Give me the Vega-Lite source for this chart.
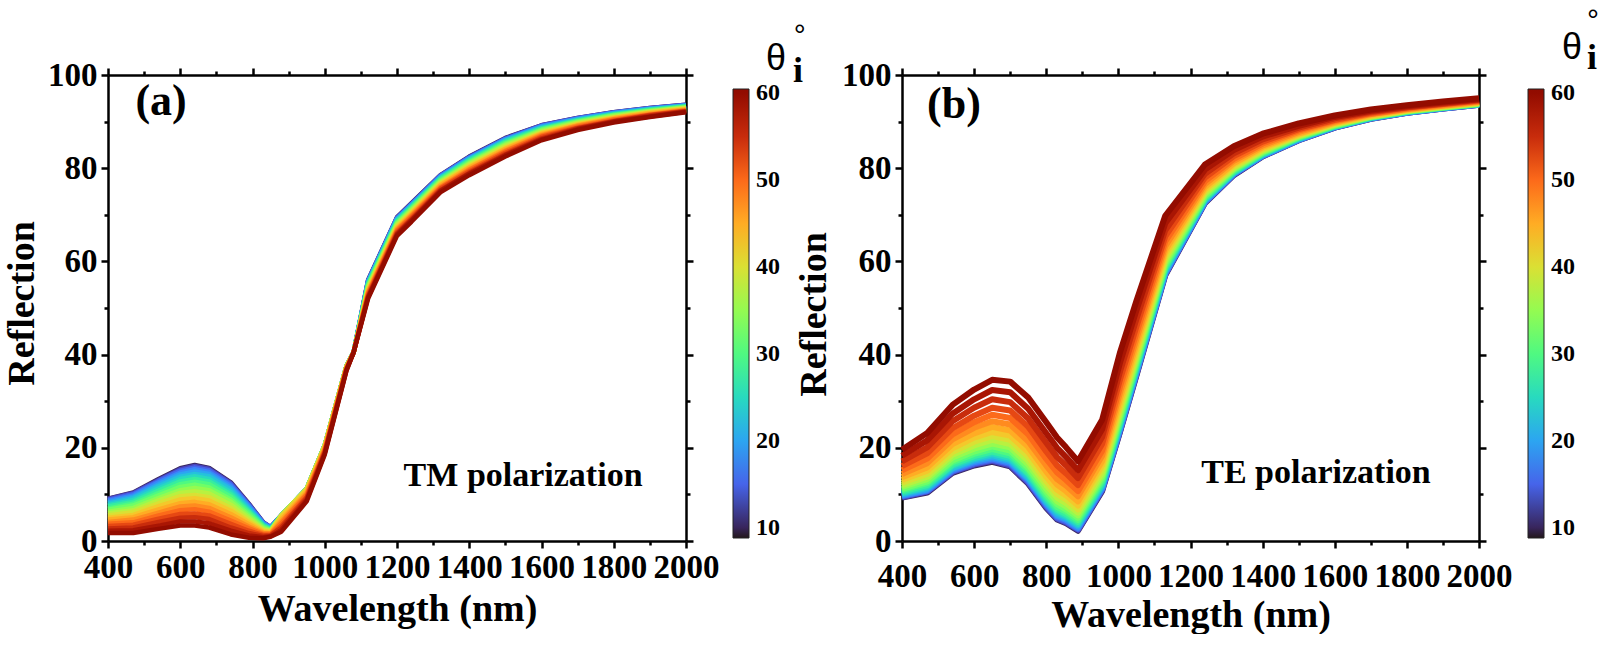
{
"$schema":"https://vega.github.io/schema/vega-lite/v6.json",
"background":"white",
"autosize":{"type":"pad"},
"padding":{"left":3,"top":5,"right":0,"bottom":0},
"bounds":"flush",
"spacing":216,
"config":{"view":{"stroke":null},"font":"Liberation Serif",
"axis":{"grid":false,"domainColor":"black","domainWidth":2.5,"tickColor":"black","tickWidth":2.5,"labelFont":"Liberation Serif","labelFontWeight":"bold","labelFontSize":33,"labelColor":"black","titleFont":"Liberation Serif","titleFontWeight":"bold","titleFontSize":38,"titleColor":"black","labelOverlap":false,"labelFlush":false}},
"resolve":{"scale":{"color":"independent"},"legend":{"color":"independent"}},
"datasets":{
"a":[
{"t":10,"w":400,"r":9.1},{"t":12.5,"w":400,"r":9.0},{"t":15,"w":400,"r":8.8},{"t":17.5,"w":400,"r":8.6},{"t":20,"w":400,"r":8.3},{"t":22.5,"w":400,"r":8.0},{"t":25,"w":400,"r":7.7},{"t":27.5,"w":400,"r":7.4},{"t":30,"w":400,"r":7.0},{"t":32.5,"w":400,"r":6.7},{"t":35,"w":400,"r":6.3},{"t":37.5,"w":400,"r":5.9},{"t":40,"w":400,"r":5.5},{"t":42.5,"w":400,"r":5.0},{"t":45,"w":400,"r":4.6},{"t":47.5,"w":400,"r":4.1},{"t":50,"w":400,"r":3.7},{"t":52.5,"w":400,"r":3.2},{"t":55,"w":400,"r":2.7},{"t":57.5,"w":400,"r":2.2},{"t":60,"w":400,"r":1.7},
{"t":10,"w":470,"r":10.4},{"t":12.5,"w":470,"r":10.3},{"t":15,"w":470,"r":10.1},{"t":17.5,"w":470,"r":9.8},{"t":20,"w":470,"r":9.5},{"t":22.5,"w":470,"r":9.2},{"t":25,"w":470,"r":8.8},{"t":27.5,"w":470,"r":8.4},{"t":30,"w":470,"r":8.0},{"t":32.5,"w":470,"r":7.6},{"t":35,"w":470,"r":7.1},{"t":37.5,"w":470,"r":6.6},{"t":40,"w":470,"r":6.2},{"t":42.5,"w":470,"r":5.6},{"t":45,"w":470,"r":5.1},{"t":47.5,"w":470,"r":4.6},{"t":50,"w":470,"r":4.0},{"t":52.5,"w":470,"r":3.5},{"t":55,"w":470,"r":2.9},{"t":57.5,"w":470,"r":2.3},{"t":60,"w":470,"r":1.7},
{"t":10,"w":540,"r":13.3},{"t":12.5,"w":540,"r":13.1},{"t":15,"w":540,"r":12.9},{"t":17.5,"w":540,"r":12.6},{"t":20,"w":540,"r":12.2},{"t":22.5,"w":540,"r":11.8},{"t":25,"w":540,"r":11.3},{"t":27.5,"w":540,"r":10.8},{"t":30,"w":540,"r":10.3},{"t":32.5,"w":540,"r":9.8},{"t":35,"w":540,"r":9.2},{"t":37.5,"w":540,"r":8.7},{"t":40,"w":540,"r":8.1},{"t":42.5,"w":540,"r":7.5},{"t":45,"w":540,"r":6.8},{"t":47.5,"w":540,"r":6.1},{"t":50,"w":540,"r":5.5},{"t":52.5,"w":540,"r":4.8},{"t":55,"w":540,"r":4.1},{"t":57.5,"w":540,"r":3.3},{"t":60,"w":540,"r":2.6},
{"t":10,"w":600,"r":15.6},{"t":12.5,"w":600,"r":15.4},{"t":15,"w":600,"r":15.1},{"t":17.5,"w":600,"r":14.7},{"t":20,"w":600,"r":14.3},{"t":22.5,"w":600,"r":13.8},{"t":25,"w":600,"r":13.3},{"t":27.5,"w":600,"r":12.8},{"t":30,"w":600,"r":12.2},{"t":32.5,"w":600,"r":11.6},{"t":35,"w":600,"r":10.9},{"t":37.5,"w":600,"r":10.3},{"t":40,"w":600,"r":9.6},{"t":42.5,"w":600,"r":8.9},{"t":45,"w":600,"r":8.1},{"t":47.5,"w":600,"r":7.4},{"t":50,"w":600,"r":6.6},{"t":52.5,"w":600,"r":5.8},{"t":55,"w":600,"r":5.0},{"t":57.5,"w":600,"r":4.2},{"t":60,"w":600,"r":3.3},
{"t":10,"w":640,"r":16.3},{"t":12.5,"w":640,"r":16.1},{"t":15,"w":640,"r":15.8},{"t":17.5,"w":640,"r":15.4},{"t":20,"w":640,"r":14.9},{"t":22.5,"w":640,"r":14.4},{"t":25,"w":640,"r":13.9},{"t":27.5,"w":640,"r":13.3},{"t":30,"w":640,"r":12.7},{"t":32.5,"w":640,"r":12.1},{"t":35,"w":640,"r":11.4},{"t":37.5,"w":640,"r":10.7},{"t":40,"w":640,"r":9.9},{"t":42.5,"w":640,"r":9.2},{"t":45,"w":640,"r":8.4},{"t":47.5,"w":640,"r":7.6},{"t":50,"w":640,"r":6.8},{"t":52.5,"w":640,"r":5.9},{"t":55,"w":640,"r":5.1},{"t":57.5,"w":640,"r":4.2},{"t":60,"w":640,"r":3.3},
{"t":10,"w":680,"r":15.7},{"t":12.5,"w":680,"r":15.5},{"t":15,"w":680,"r":15.2},{"t":17.5,"w":680,"r":14.8},{"t":20,"w":680,"r":14.4},{"t":22.5,"w":680,"r":13.9},{"t":25,"w":680,"r":13.3},{"t":27.5,"w":680,"r":12.8},{"t":30,"w":680,"r":12.2},{"t":32.5,"w":680,"r":11.5},{"t":35,"w":680,"r":10.9},{"t":37.5,"w":680,"r":10.2},{"t":40,"w":680,"r":9.4},{"t":42.5,"w":680,"r":8.7},{"t":45,"w":680,"r":7.9},{"t":47.5,"w":680,"r":7.1},{"t":50,"w":680,"r":6.3},{"t":52.5,"w":680,"r":5.5},{"t":55,"w":680,"r":4.7},{"t":57.5,"w":680,"r":3.8},{"t":60,"w":680,"r":2.9},
{"t":10,"w":740,"r":12.6},{"t":12.5,"w":740,"r":12.4},{"t":15,"w":740,"r":12.2},{"t":17.5,"w":740,"r":11.8},{"t":20,"w":740,"r":11.4},{"t":22.5,"w":740,"r":11.0},{"t":25,"w":740,"r":10.5},{"t":27.5,"w":740,"r":10.0},{"t":30,"w":740,"r":9.5},{"t":32.5,"w":740,"r":8.9},{"t":35,"w":740,"r":8.4},{"t":37.5,"w":740,"r":7.8},{"t":40,"w":740,"r":7.1},{"t":42.5,"w":740,"r":6.5},{"t":45,"w":740,"r":5.8},{"t":47.5,"w":740,"r":5.1},{"t":50,"w":740,"r":4.4},{"t":52.5,"w":740,"r":3.7},{"t":55,"w":740,"r":2.9},{"t":57.5,"w":740,"r":2.2},{"t":60,"w":740,"r":1.4},
{"t":10,"w":790,"r":8.0},{"t":12.5,"w":790,"r":7.9},{"t":15,"w":790,"r":7.7},{"t":17.5,"w":790,"r":7.5},{"t":20,"w":790,"r":7.2},{"t":22.5,"w":790,"r":6.9},{"t":25,"w":790,"r":6.6},{"t":27.5,"w":790,"r":6.3},{"t":30,"w":790,"r":6.0},{"t":32.5,"w":790,"r":5.6},{"t":35,"w":790,"r":5.2},{"t":37.5,"w":790,"r":4.8},{"t":40,"w":790,"r":4.4},{"t":42.5,"w":790,"r":4.0},{"t":45,"w":790,"r":3.6},{"t":47.5,"w":790,"r":3.1},{"t":50,"w":790,"r":2.7},{"t":52.5,"w":790,"r":2.2},{"t":55,"w":790,"r":1.7},{"t":57.5,"w":790,"r":1.2},{"t":60,"w":790,"r":0.7},
{"t":10,"w":830,"r":4.0},{"t":12.5,"w":830,"r":4.0},{"t":15,"w":830,"r":3.9},{"t":17.5,"w":830,"r":3.8},{"t":20,"w":830,"r":3.6},{"t":22.5,"w":830,"r":3.5},{"t":25,"w":830,"r":3.4},{"t":27.5,"w":830,"r":3.2},{"t":30,"w":830,"r":3.1},{"t":32.5,"w":830,"r":2.9},{"t":35,"w":830,"r":2.7},{"t":37.5,"w":830,"r":2.5},{"t":40,"w":830,"r":2.3},{"t":42.5,"w":830,"r":2.1},{"t":45,"w":830,"r":1.9},{"t":47.5,"w":830,"r":1.7},{"t":50,"w":830,"r":1.5},{"t":52.5,"w":830,"r":1.3},{"t":55,"w":830,"r":1.1},{"t":57.5,"w":830,"r":0.8},{"t":60,"w":830,"r":0.6},
{"t":10,"w":850,"r":3.0},{"t":12.5,"w":850,"r":3.0},{"t":15,"w":850,"r":2.9},{"t":17.5,"w":850,"r":2.9},{"t":20,"w":850,"r":2.8},{"t":22.5,"w":850,"r":2.7},{"t":25,"w":850,"r":2.6},{"t":27.5,"w":850,"r":2.5},{"t":30,"w":850,"r":2.4},{"t":32.5,"w":850,"r":2.3},{"t":35,"w":850,"r":2.2},{"t":37.5,"w":850,"r":2.1},{"t":40,"w":850,"r":2.0},{"t":42.5,"w":850,"r":1.9},{"t":45,"w":850,"r":1.7},{"t":47.5,"w":850,"r":1.6},{"t":50,"w":850,"r":1.5},{"t":52.5,"w":850,"r":1.3},{"t":55,"w":850,"r":1.2},{"t":57.5,"w":850,"r":1.0},{"t":60,"w":850,"r":0.9},
{"t":10,"w":880,"r":5.5},{"t":12.5,"w":880,"r":5.5},{"t":15,"w":880,"r":5.5},{"t":17.5,"w":880,"r":5.5},{"t":20,"w":880,"r":5.5},{"t":22.5,"w":880,"r":5.5},{"t":25,"w":880,"r":5.5},{"t":27.5,"w":880,"r":5.5},{"t":30,"w":880,"r":5.5},{"t":32.5,"w":880,"r":5.5},{"t":35,"w":880,"r":5.5},{"t":37.5,"w":880,"r":5.5},{"t":40,"w":880,"r":5.5},{"t":42.5,"w":880,"r":5.1},{"t":45,"w":880,"r":4.6},{"t":47.5,"w":880,"r":4.2},{"t":50,"w":880,"r":3.8},{"t":52.5,"w":880,"r":3.3},{"t":55,"w":880,"r":2.9},{"t":57.5,"w":880,"r":2.4},{"t":60,"w":880,"r":2.0},
{"t":10,"w":950,"r":11.2},{"t":12.5,"w":950,"r":11.2},{"t":15,"w":950,"r":11.2},{"t":17.5,"w":950,"r":11.2},{"t":20,"w":950,"r":11.2},{"t":22.5,"w":950,"r":11.2},{"t":25,"w":950,"r":11.2},{"t":27.5,"w":950,"r":11.2},{"t":30,"w":950,"r":11.2},{"t":32.5,"w":950,"r":11.2},{"t":35,"w":950,"r":11.2},{"t":37.5,"w":950,"r":11.2},{"t":40,"w":950,"r":11.2},{"t":42.5,"w":950,"r":10.9},{"t":45,"w":950,"r":10.5},{"t":47.5,"w":950,"r":10.2},{"t":50,"w":950,"r":9.9},{"t":52.5,"w":950,"r":9.5},{"t":55,"w":950,"r":9.2},{"t":57.5,"w":950,"r":8.8},{"t":60,"w":950,"r":8.5},
{"t":10,"w":1000,"r":20.5},{"t":12.5,"w":1000,"r":20.5},{"t":15,"w":1000,"r":20.5},{"t":17.5,"w":1000,"r":20.5},{"t":20,"w":1000,"r":20.5},{"t":22.5,"w":1000,"r":20.5},{"t":25,"w":1000,"r":20.5},{"t":27.5,"w":1000,"r":20.5},{"t":30,"w":1000,"r":20.5},{"t":32.5,"w":1000,"r":20.5},{"t":35,"w":1000,"r":20.5},{"t":37.5,"w":1000,"r":20.5},{"t":40,"w":1000,"r":20.5},{"t":42.5,"w":1000,"r":20.3},{"t":45,"w":1000,"r":20.0},{"t":47.5,"w":1000,"r":19.8},{"t":50,"w":1000,"r":19.5},{"t":52.5,"w":1000,"r":19.3},{"t":55,"w":1000,"r":19.0},{"t":57.5,"w":1000,"r":18.8},{"t":60,"w":1000,"r":18.5},
{"t":10,"w":1060,"r":37.5},{"t":12.5,"w":1060,"r":37.5},{"t":15,"w":1060,"r":37.5},{"t":17.5,"w":1060,"r":37.5},{"t":20,"w":1060,"r":37.5},{"t":22.5,"w":1060,"r":37.5},{"t":25,"w":1060,"r":37.5},{"t":27.5,"w":1060,"r":37.5},{"t":30,"w":1060,"r":37.5},{"t":32.5,"w":1060,"r":37.5},{"t":35,"w":1060,"r":37.5},{"t":37.5,"w":1060,"r":37.5},{"t":40,"w":1060,"r":37.5},{"t":42.5,"w":1060,"r":37.4},{"t":45,"w":1060,"r":37.3},{"t":47.5,"w":1060,"r":37.1},{"t":50,"w":1060,"r":37.0},{"t":52.5,"w":1060,"r":36.9},{"t":55,"w":1060,"r":36.8},{"t":57.5,"w":1060,"r":36.6},{"t":60,"w":1060,"r":36.5},
{"t":10,"w":1080,"r":40.5},{"t":12.5,"w":1080,"r":40.5},{"t":15,"w":1080,"r":40.5},{"t":17.5,"w":1080,"r":40.5},{"t":20,"w":1080,"r":40.5},{"t":22.5,"w":1080,"r":40.5},{"t":25,"w":1080,"r":40.5},{"t":27.5,"w":1080,"r":40.5},{"t":30,"w":1080,"r":40.5},{"t":32.5,"w":1080,"r":40.5},{"t":35,"w":1080,"r":40.5},{"t":37.5,"w":1080,"r":40.5},{"t":40,"w":1080,"r":40.5},{"t":42.5,"w":1080,"r":40.5},{"t":45,"w":1080,"r":40.5},{"t":47.5,"w":1080,"r":40.5},{"t":50,"w":1080,"r":40.5},{"t":52.5,"w":1080,"r":40.5},{"t":55,"w":1080,"r":40.5},{"t":57.5,"w":1080,"r":40.5},{"t":60,"w":1080,"r":40.5},
{"t":10,"w":1120,"r":56.0},{"t":12.5,"w":1120,"r":55.9},{"t":15,"w":1120,"r":55.8},{"t":17.5,"w":1120,"r":55.7},{"t":20,"w":1120,"r":55.6},{"t":22.5,"w":1120,"r":55.4},{"t":25,"w":1120,"r":55.3},{"t":27.5,"w":1120,"r":55.1},{"t":30,"w":1120,"r":54.9},{"t":32.5,"w":1120,"r":54.7},{"t":35,"w":1120,"r":54.5},{"t":37.5,"w":1120,"r":54.3},{"t":40,"w":1120,"r":54.0},{"t":42.5,"w":1120,"r":53.8},{"t":45,"w":1120,"r":53.6},{"t":47.5,"w":1120,"r":53.3},{"t":50,"w":1120,"r":53.1},{"t":52.5,"w":1120,"r":52.8},{"t":55,"w":1120,"r":52.5},{"t":57.5,"w":1120,"r":52.3},{"t":60,"w":1120,"r":52.0},
{"t":10,"w":1200,"r":69.5},{"t":12.5,"w":1200,"r":69.4},{"t":15,"w":1200,"r":69.3},{"t":17.5,"w":1200,"r":69.2},{"t":20,"w":1200,"r":69.1},{"t":22.5,"w":1200,"r":68.9},{"t":25,"w":1200,"r":68.8},{"t":27.5,"w":1200,"r":68.6},{"t":30,"w":1200,"r":68.4},{"t":32.5,"w":1200,"r":68.2},{"t":35,"w":1200,"r":68.0},{"t":37.5,"w":1200,"r":67.8},{"t":40,"w":1200,"r":67.5},{"t":42.5,"w":1200,"r":67.3},{"t":45,"w":1200,"r":67.1},{"t":47.5,"w":1200,"r":66.8},{"t":50,"w":1200,"r":66.6},{"t":52.5,"w":1200,"r":66.3},{"t":55,"w":1200,"r":66.0},{"t":57.5,"w":1200,"r":65.8},{"t":60,"w":1200,"r":65.5},
{"t":10,"w":1240,"r":72.5},{"t":12.5,"w":1240,"r":72.4},{"t":15,"w":1240,"r":72.3},{"t":17.5,"w":1240,"r":72.2},{"t":20,"w":1240,"r":72.1},{"t":22.5,"w":1240,"r":71.9},{"t":25,"w":1240,"r":71.8},{"t":27.5,"w":1240,"r":71.6},{"t":30,"w":1240,"r":71.4},{"t":32.5,"w":1240,"r":71.2},{"t":35,"w":1240,"r":71.0},{"t":37.5,"w":1240,"r":70.8},{"t":40,"w":1240,"r":70.5},{"t":42.5,"w":1240,"r":70.3},{"t":45,"w":1240,"r":70.1},{"t":47.5,"w":1240,"r":69.8},{"t":50,"w":1240,"r":69.6},{"t":52.5,"w":1240,"r":69.3},{"t":55,"w":1240,"r":69.0},{"t":57.5,"w":1240,"r":68.8},{"t":60,"w":1240,"r":68.5},
{"t":10,"w":1320,"r":78.5},{"t":12.5,"w":1320,"r":78.4},{"t":15,"w":1320,"r":78.4},{"t":17.5,"w":1320,"r":78.2},{"t":20,"w":1320,"r":78.1},{"t":22.5,"w":1320,"r":78.0},{"t":25,"w":1320,"r":77.8},{"t":27.5,"w":1320,"r":77.7},{"t":30,"w":1320,"r":77.5},{"t":32.5,"w":1320,"r":77.3},{"t":35,"w":1320,"r":77.1},{"t":37.5,"w":1320,"r":76.9},{"t":40,"w":1320,"r":76.7},{"t":42.5,"w":1320,"r":76.5},{"t":45,"w":1320,"r":76.3},{"t":47.5,"w":1320,"r":76.0},{"t":50,"w":1320,"r":75.8},{"t":52.5,"w":1320,"r":75.6},{"t":55,"w":1320,"r":75.3},{"t":57.5,"w":1320,"r":75.1},{"t":60,"w":1320,"r":74.8},
{"t":10,"w":1400,"r":82.5},{"t":12.5,"w":1400,"r":82.4},{"t":15,"w":1400,"r":82.3},{"t":17.5,"w":1400,"r":82.2},{"t":20,"w":1400,"r":82.1},{"t":22.5,"w":1400,"r":81.9},{"t":25,"w":1400,"r":81.8},{"t":27.5,"w":1400,"r":81.6},{"t":30,"w":1400,"r":81.4},{"t":32.5,"w":1400,"r":81.2},{"t":35,"w":1400,"r":81.0},{"t":37.5,"w":1400,"r":80.8},{"t":40,"w":1400,"r":80.5},{"t":42.5,"w":1400,"r":80.3},{"t":45,"w":1400,"r":80.1},{"t":47.5,"w":1400,"r":79.8},{"t":50,"w":1400,"r":79.6},{"t":52.5,"w":1400,"r":79.3},{"t":55,"w":1400,"r":79.0},{"t":57.5,"w":1400,"r":78.8},{"t":60,"w":1400,"r":78.5},
{"t":10,"w":1500,"r":86.5},{"t":12.5,"w":1500,"r":86.4},{"t":15,"w":1500,"r":86.3},{"t":17.5,"w":1500,"r":86.2},{"t":20,"w":1500,"r":86.1},{"t":22.5,"w":1500,"r":85.9},{"t":25,"w":1500,"r":85.8},{"t":27.5,"w":1500,"r":85.6},{"t":30,"w":1500,"r":85.4},{"t":32.5,"w":1500,"r":85.2},{"t":35,"w":1500,"r":85.0},{"t":37.5,"w":1500,"r":84.8},{"t":40,"w":1500,"r":84.5},{"t":42.5,"w":1500,"r":84.3},{"t":45,"w":1500,"r":84.1},{"t":47.5,"w":1500,"r":83.8},{"t":50,"w":1500,"r":83.6},{"t":52.5,"w":1500,"r":83.3},{"t":55,"w":1500,"r":83.0},{"t":57.5,"w":1500,"r":82.8},{"t":60,"w":1500,"r":82.5},
{"t":10,"w":1600,"r":89.2},{"t":12.5,"w":1600,"r":89.2},{"t":15,"w":1600,"r":89.1},{"t":17.5,"w":1600,"r":89.0},{"t":20,"w":1600,"r":88.9},{"t":22.5,"w":1600,"r":88.7},{"t":25,"w":1600,"r":88.6},{"t":27.5,"w":1600,"r":88.5},{"t":30,"w":1600,"r":88.3},{"t":32.5,"w":1600,"r":88.2},{"t":35,"w":1600,"r":88.0},{"t":37.5,"w":1600,"r":87.8},{"t":40,"w":1600,"r":87.6},{"t":42.5,"w":1600,"r":87.5},{"t":45,"w":1600,"r":87.3},{"t":47.5,"w":1600,"r":87.1},{"t":50,"w":1600,"r":86.9},{"t":52.5,"w":1600,"r":86.7},{"t":55,"w":1600,"r":86.4},{"t":57.5,"w":1600,"r":86.2},{"t":60,"w":1600,"r":86.0},
{"t":10,"w":1700,"r":90.8},{"t":12.5,"w":1700,"r":90.8},{"t":15,"w":1700,"r":90.7},{"t":17.5,"w":1700,"r":90.6},{"t":20,"w":1700,"r":90.5},{"t":22.5,"w":1700,"r":90.4},{"t":25,"w":1700,"r":90.3},{"t":27.5,"w":1700,"r":90.2},{"t":30,"w":1700,"r":90.1},{"t":32.5,"w":1700,"r":90.0},{"t":35,"w":1700,"r":89.8},{"t":37.5,"w":1700,"r":89.7},{"t":40,"w":1700,"r":89.5},{"t":42.5,"w":1700,"r":89.4},{"t":45,"w":1700,"r":89.2},{"t":47.5,"w":1700,"r":89.1},{"t":50,"w":1700,"r":88.9},{"t":52.5,"w":1700,"r":88.7},{"t":55,"w":1700,"r":88.6},{"t":57.5,"w":1700,"r":88.4},{"t":60,"w":1700,"r":88.2},
{"t":10,"w":1800,"r":92.0},{"t":12.5,"w":1800,"r":92.0},{"t":15,"w":1800,"r":91.9},{"t":17.5,"w":1800,"r":91.9},{"t":20,"w":1800,"r":91.8},{"t":22.5,"w":1800,"r":91.7},{"t":25,"w":1800,"r":91.6},{"t":27.5,"w":1800,"r":91.5},{"t":30,"w":1800,"r":91.4},{"t":32.5,"w":1800,"r":91.3},{"t":35,"w":1800,"r":91.2},{"t":37.5,"w":1800,"r":91.0},{"t":40,"w":1800,"r":90.9},{"t":42.5,"w":1800,"r":90.8},{"t":45,"w":1800,"r":90.7},{"t":47.5,"w":1800,"r":90.5},{"t":50,"w":1800,"r":90.4},{"t":52.5,"w":1800,"r":90.2},{"t":55,"w":1800,"r":90.1},{"t":57.5,"w":1800,"r":90.0},{"t":60,"w":1800,"r":89.8},
{"t":10,"w":1900,"r":92.9},{"t":12.5,"w":1900,"r":92.9},{"t":15,"w":1900,"r":92.8},{"t":17.5,"w":1900,"r":92.8},{"t":20,"w":1900,"r":92.7},{"t":22.5,"w":1900,"r":92.6},{"t":25,"w":1900,"r":92.6},{"t":27.5,"w":1900,"r":92.5},{"t":30,"w":1900,"r":92.4},{"t":32.5,"w":1900,"r":92.3},{"t":35,"w":1900,"r":92.2},{"t":37.5,"w":1900,"r":92.1},{"t":40,"w":1900,"r":92.0},{"t":42.5,"w":1900,"r":91.9},{"t":45,"w":1900,"r":91.8},{"t":47.5,"w":1900,"r":91.6},{"t":50,"w":1900,"r":91.5},{"t":52.5,"w":1900,"r":91.4},{"t":55,"w":1900,"r":91.3},{"t":57.5,"w":1900,"r":91.1},{"t":60,"w":1900,"r":91.0},
{"t":10,"w":2000,"r":93.6},{"t":12.5,"w":2000,"r":93.6},{"t":15,"w":2000,"r":93.5},{"t":17.5,"w":2000,"r":93.5},{"t":20,"w":2000,"r":93.4},{"t":22.5,"w":2000,"r":93.4},{"t":25,"w":2000,"r":93.3},{"t":27.5,"w":2000,"r":93.2},{"t":30,"w":2000,"r":93.2},{"t":32.5,"w":2000,"r":93.1},{"t":35,"w":2000,"r":93.0},{"t":37.5,"w":2000,"r":92.9},{"t":40,"w":2000,"r":92.8},{"t":42.5,"w":2000,"r":92.7},{"t":45,"w":2000,"r":92.6},{"t":47.5,"w":2000,"r":92.5},{"t":50,"w":2000,"r":92.4},{"t":52.5,"w":2000,"r":92.3},{"t":55,"w":2000,"r":92.2},{"t":57.5,"w":2000,"r":92.1},{"t":60,"w":2000,"r":92.0}
],
"b":[
{"t":10,"w":400,"r":9.3},{"t":12.5,"w":400,"r":9.4},{"t":15,"w":400,"r":9.6},{"t":17.5,"w":400,"r":9.7},{"t":20,"w":400,"r":9.9},{"t":22.5,"w":400,"r":10.1},{"t":25,"w":400,"r":10.3},{"t":27.5,"w":400,"r":10.6},{"t":30,"w":400,"r":10.9},{"t":32.5,"w":400,"r":11.2},{"t":35,"w":400,"r":11.6},{"t":37.5,"w":400,"r":12.0},{"t":40,"w":400,"r":12.5},{"t":42.5,"w":400,"r":13.1},{"t":45,"w":400,"r":13.7},{"t":47.5,"w":400,"r":14.4},{"t":50,"w":400,"r":15.2},{"t":52.5,"w":400,"r":16.1},{"t":55,"w":400,"r":17.1},{"t":57.5,"w":400,"r":18.3},{"t":60,"w":400,"r":19.6},
{"t":10,"w":470,"r":10.4},{"t":12.5,"w":470,"r":10.6},{"t":15,"w":470,"r":10.7},{"t":17.5,"w":470,"r":10.9},{"t":20,"w":470,"r":11.1},{"t":22.5,"w":470,"r":11.4},{"t":25,"w":470,"r":11.7},{"t":27.5,"w":470,"r":12.0},{"t":30,"w":470,"r":12.4},{"t":32.5,"w":470,"r":12.8},{"t":35,"w":470,"r":13.3},{"t":37.5,"w":470,"r":13.8},{"t":40,"w":470,"r":14.4},{"t":42.5,"w":470,"r":15.1},{"t":45,"w":470,"r":15.8},{"t":47.5,"w":470,"r":16.7},{"t":50,"w":470,"r":17.7},{"t":52.5,"w":470,"r":18.8},{"t":55,"w":470,"r":20.1},{"t":57.5,"w":470,"r":21.6},{"t":60,"w":470,"r":23.2},
{"t":10,"w":540,"r":14.6},{"t":12.5,"w":540,"r":14.8},{"t":15,"w":540,"r":15.0},{"t":17.5,"w":540,"r":15.2},{"t":20,"w":540,"r":15.5},{"t":22.5,"w":540,"r":15.7},{"t":25,"w":540,"r":16.1},{"t":27.5,"w":540,"r":16.4},{"t":30,"w":540,"r":16.9},{"t":32.5,"w":540,"r":17.3},{"t":35,"w":540,"r":17.9},{"t":37.5,"w":540,"r":18.5},{"t":40,"w":540,"r":19.1},{"t":42.5,"w":540,"r":19.9},{"t":45,"w":540,"r":20.8},{"t":47.5,"w":540,"r":21.8},{"t":50,"w":540,"r":22.9},{"t":52.5,"w":540,"r":24.2},{"t":55,"w":540,"r":25.7},{"t":57.5,"w":540,"r":27.3},{"t":60,"w":540,"r":29.2},
{"t":10,"w":600,"r":16.2},{"t":12.5,"w":600,"r":16.4},{"t":15,"w":600,"r":16.6},{"t":17.5,"w":600,"r":16.9},{"t":20,"w":600,"r":17.2},{"t":22.5,"w":600,"r":17.5},{"t":25,"w":600,"r":17.8},{"t":27.5,"w":600,"r":18.2},{"t":30,"w":600,"r":18.7},{"t":32.5,"w":600,"r":19.2},{"t":35,"w":600,"r":19.8},{"t":37.5,"w":600,"r":20.5},{"t":40,"w":600,"r":21.3},{"t":42.5,"w":600,"r":22.2},{"t":45,"w":600,"r":23.1},{"t":47.5,"w":600,"r":24.3},{"t":50,"w":600,"r":25.5},{"t":52.5,"w":600,"r":26.9},{"t":55,"w":600,"r":28.6},{"t":57.5,"w":600,"r":30.4},{"t":60,"w":600,"r":32.5},
{"t":10,"w":650,"r":17.0},{"t":12.5,"w":650,"r":17.2},{"t":15,"w":650,"r":17.4},{"t":17.5,"w":650,"r":17.7},{"t":20,"w":650,"r":18.0},{"t":22.5,"w":650,"r":18.4},{"t":25,"w":650,"r":18.8},{"t":27.5,"w":650,"r":19.2},{"t":30,"w":650,"r":19.7},{"t":32.5,"w":650,"r":20.3},{"t":35,"w":650,"r":20.9},{"t":37.5,"w":650,"r":21.7},{"t":40,"w":650,"r":22.5},{"t":42.5,"w":650,"r":23.4},{"t":45,"w":650,"r":24.5},{"t":47.5,"w":650,"r":25.7},{"t":50,"w":650,"r":27.1},{"t":52.5,"w":650,"r":28.6},{"t":55,"w":650,"r":30.4},{"t":57.5,"w":650,"r":32.4},{"t":60,"w":650,"r":34.6},
{"t":10,"w":700,"r":16.0},{"t":12.5,"w":700,"r":16.2},{"t":15,"w":700,"r":16.5},{"t":17.5,"w":700,"r":16.8},{"t":20,"w":700,"r":17.1},{"t":22.5,"w":700,"r":17.4},{"t":25,"w":700,"r":17.8},{"t":27.5,"w":700,"r":18.3},{"t":30,"w":700,"r":18.8},{"t":32.5,"w":700,"r":19.4},{"t":35,"w":700,"r":20.1},{"t":37.5,"w":700,"r":20.8},{"t":40,"w":700,"r":21.7},{"t":42.5,"w":700,"r":22.6},{"t":45,"w":700,"r":23.7},{"t":47.5,"w":700,"r":25.0},{"t":50,"w":700,"r":26.4},{"t":52.5,"w":700,"r":28.0},{"t":55,"w":700,"r":29.8},{"t":57.5,"w":700,"r":31.9},{"t":60,"w":700,"r":34.2},
{"t":10,"w":750,"r":12.3},{"t":12.5,"w":750,"r":12.5},{"t":15,"w":750,"r":12.8},{"t":17.5,"w":750,"r":13.1},{"t":20,"w":750,"r":13.4},{"t":22.5,"w":750,"r":13.7},{"t":25,"w":750,"r":14.2},{"t":27.5,"w":750,"r":14.6},{"t":30,"w":750,"r":15.2},{"t":32.5,"w":750,"r":15.7},{"t":35,"w":750,"r":16.4},{"t":37.5,"w":750,"r":17.2},{"t":40,"w":750,"r":18.1},{"t":42.5,"w":750,"r":19.1},{"t":45,"w":750,"r":20.2},{"t":47.5,"w":750,"r":21.4},{"t":50,"w":750,"r":22.9},{"t":52.5,"w":750,"r":24.5},{"t":55,"w":750,"r":26.3},{"t":57.5,"w":750,"r":28.4},{"t":60,"w":750,"r":30.8},
{"t":10,"w":800,"r":7.1},{"t":12.5,"w":800,"r":7.3},{"t":15,"w":800,"r":7.6},{"t":17.5,"w":800,"r":7.9},{"t":20,"w":800,"r":8.2},{"t":22.5,"w":800,"r":8.5},{"t":25,"w":800,"r":8.9},{"t":27.5,"w":800,"r":9.4},{"t":30,"w":800,"r":9.9},{"t":32.5,"w":800,"r":10.5},{"t":35,"w":800,"r":11.2},{"t":37.5,"w":800,"r":12.0},{"t":40,"w":800,"r":12.8},{"t":42.5,"w":800,"r":13.8},{"t":45,"w":800,"r":14.9},{"t":47.5,"w":800,"r":16.2},{"t":50,"w":800,"r":17.6},{"t":52.5,"w":800,"r":19.2},{"t":55,"w":800,"r":21.1},{"t":57.5,"w":800,"r":23.1},{"t":60,"w":800,"r":25.5},
{"t":10,"w":830,"r":4.6},{"t":12.5,"w":830,"r":4.8},{"t":15,"w":830,"r":5.0},{"t":17.5,"w":830,"r":5.3},{"t":20,"w":830,"r":5.6},{"t":22.5,"w":830,"r":6.0},{"t":25,"w":830,"r":6.4},{"t":27.5,"w":830,"r":6.8},{"t":30,"w":830,"r":7.3},{"t":32.5,"w":830,"r":7.9},{"t":35,"w":830,"r":8.5},{"t":37.5,"w":830,"r":9.3},{"t":40,"w":830,"r":10.1},{"t":42.5,"w":830,"r":11.0},{"t":45,"w":830,"r":12.1},{"t":47.5,"w":830,"r":13.3},{"t":50,"w":830,"r":14.7},{"t":52.5,"w":830,"r":16.2},{"t":55,"w":830,"r":18.0},{"t":57.5,"w":830,"r":20.0},{"t":60,"w":830,"r":22.2},
{"t":10,"w":855,"r":3.8},{"t":12.5,"w":855,"r":4.0},{"t":15,"w":855,"r":4.2},{"t":17.5,"w":855,"r":4.5},{"t":20,"w":855,"r":4.8},{"t":22.5,"w":855,"r":5.1},{"t":25,"w":855,"r":5.4},{"t":27.5,"w":855,"r":5.8},{"t":30,"w":855,"r":6.3},{"t":32.5,"w":855,"r":6.8},{"t":35,"w":855,"r":7.4},{"t":37.5,"w":855,"r":8.1},{"t":40,"w":855,"r":8.9},{"t":42.5,"w":855,"r":9.8},{"t":45,"w":855,"r":10.7},{"t":47.5,"w":855,"r":11.9},{"t":50,"w":855,"r":13.1},{"t":52.5,"w":855,"r":14.5},{"t":55,"w":855,"r":16.2},{"t":57.5,"w":855,"r":18.0},{"t":60,"w":855,"r":20.1},
{"t":10,"w":888,"r":2.2},{"t":12.5,"w":888,"r":2.4},{"t":15,"w":888,"r":2.6},{"t":17.5,"w":888,"r":2.8},{"t":20,"w":888,"r":3.1},{"t":22.5,"w":888,"r":3.4},{"t":25,"w":888,"r":3.7},{"t":27.5,"w":888,"r":4.1},{"t":30,"w":888,"r":4.5},{"t":32.5,"w":888,"r":5.0},{"t":35,"w":888,"r":5.5},{"t":37.5,"w":888,"r":6.1},{"t":40,"w":888,"r":6.8},{"t":42.5,"w":888,"r":7.6},{"t":45,"w":888,"r":8.5},{"t":47.5,"w":888,"r":9.6},{"t":50,"w":888,"r":10.7},{"t":52.5,"w":888,"r":12.0},{"t":55,"w":888,"r":13.5},{"t":57.5,"w":888,"r":15.2},{"t":60,"w":888,"r":17.1},
{"t":10,"w":955,"r":10.7},{"t":12.5,"w":955,"r":10.9},{"t":15,"w":955,"r":11.1},{"t":17.5,"w":955,"r":11.3},{"t":20,"w":955,"r":11.6},{"t":22.5,"w":955,"r":11.9},{"t":25,"w":955,"r":12.2},{"t":27.5,"w":955,"r":12.6},{"t":30,"w":955,"r":13.1},{"t":32.5,"w":955,"r":13.6},{"t":35,"w":955,"r":14.1},{"t":37.5,"w":955,"r":14.7},{"t":40,"w":955,"r":15.5},{"t":42.5,"w":955,"r":16.3},{"t":45,"w":955,"r":17.2},{"t":47.5,"w":955,"r":18.3},{"t":50,"w":955,"r":19.4},{"t":52.5,"w":955,"r":20.8},{"t":55,"w":955,"r":22.3},{"t":57.5,"w":955,"r":24.0},{"t":60,"w":955,"r":26.0},
{"t":10,"w":1005,"r":23.5},{"t":12.5,"w":1005,"r":23.7},{"t":15,"w":1005,"r":23.9},{"t":17.5,"w":1005,"r":24.2},{"t":20,"w":1005,"r":24.5},{"t":22.5,"w":1005,"r":24.8},{"t":25,"w":1005,"r":25.2},{"t":27.5,"w":1005,"r":25.6},{"t":30,"w":1005,"r":26.1},{"t":32.5,"w":1005,"r":26.7},{"t":35,"w":1005,"r":27.3},{"t":37.5,"w":1005,"r":28.0},{"t":40,"w":1005,"r":28.8},{"t":42.5,"w":1005,"r":29.7},{"t":45,"w":1005,"r":30.8},{"t":47.5,"w":1005,"r":32.0},{"t":50,"w":1005,"r":33.3},{"t":52.5,"w":1005,"r":34.8},{"t":55,"w":1005,"r":36.5},{"t":57.5,"w":1005,"r":38.4},{"t":60,"w":1005,"r":40.6},
{"t":10,"w":1050,"r":35.5},{"t":12.5,"w":1050,"r":35.7},{"t":15,"w":1050,"r":35.9},{"t":17.5,"w":1050,"r":36.2},{"t":20,"w":1050,"r":36.4},{"t":22.5,"w":1050,"r":36.8},{"t":25,"w":1050,"r":37.1},{"t":27.5,"w":1050,"r":37.5},{"t":30,"w":1050,"r":38.0},{"t":32.5,"w":1050,"r":38.5},{"t":35,"w":1050,"r":39.1},{"t":37.5,"w":1050,"r":39.7},{"t":40,"w":1050,"r":40.5},{"t":42.5,"w":1050,"r":41.3},{"t":45,"w":1050,"r":42.3},{"t":47.5,"w":1050,"r":43.4},{"t":50,"w":1050,"r":44.6},{"t":52.5,"w":1050,"r":46.0},{"t":55,"w":1050,"r":47.6},{"t":57.5,"w":1050,"r":49.5},{"t":60,"w":1050,"r":51.5},
{"t":10,"w":1130,"r":57.0},{"t":12.5,"w":1130,"r":57.2},{"t":15,"w":1130,"r":57.3},{"t":17.5,"w":1130,"r":57.5},{"t":20,"w":1130,"r":57.7},{"t":22.5,"w":1130,"r":58.0},{"t":25,"w":1130,"r":58.3},{"t":27.5,"w":1130,"r":58.6},{"t":30,"w":1130,"r":59.0},{"t":32.5,"w":1130,"r":59.4},{"t":35,"w":1130,"r":59.9},{"t":37.5,"w":1130,"r":60.4},{"t":40,"w":1130,"r":61.0},{"t":42.5,"w":1130,"r":61.7},{"t":45,"w":1130,"r":62.4},{"t":47.5,"w":1130,"r":63.3},{"t":50,"w":1130,"r":64.3},{"t":52.5,"w":1130,"r":65.4},{"t":55,"w":1130,"r":66.7},{"t":57.5,"w":1130,"r":68.2},{"t":60,"w":1130,"r":69.8},
{"t":10,"w":1240,"r":72.5},{"t":12.5,"w":1240,"r":72.6},{"t":15,"w":1240,"r":72.7},{"t":17.5,"w":1240,"r":72.8},{"t":20,"w":1240,"r":73.0},{"t":22.5,"w":1240,"r":73.2},{"t":25,"w":1240,"r":73.3},{"t":27.5,"w":1240,"r":73.5},{"t":30,"w":1240,"r":73.8},{"t":32.5,"w":1240,"r":74.0},{"t":35,"w":1240,"r":74.4},{"t":37.5,"w":1240,"r":74.7},{"t":40,"w":1240,"r":75.1},{"t":42.5,"w":1240,"r":75.5},{"t":45,"w":1240,"r":76.0},{"t":47.5,"w":1240,"r":76.6},{"t":50,"w":1240,"r":77.2},{"t":52.5,"w":1240,"r":78.0},{"t":55,"w":1240,"r":78.8},{"t":57.5,"w":1240,"r":79.7},{"t":60,"w":1240,"r":80.8},
{"t":10,"w":1320,"r":78.5},{"t":12.5,"w":1320,"r":78.6},{"t":15,"w":1320,"r":78.7},{"t":17.5,"w":1320,"r":78.8},{"t":20,"w":1320,"r":78.9},{"t":22.5,"w":1320,"r":79.0},{"t":25,"w":1320,"r":79.1},{"t":27.5,"w":1320,"r":79.3},{"t":30,"w":1320,"r":79.5},{"t":32.5,"w":1320,"r":79.7},{"t":35,"w":1320,"r":79.9},{"t":37.5,"w":1320,"r":80.1},{"t":40,"w":1320,"r":80.4},{"t":42.5,"w":1320,"r":80.8},{"t":45,"w":1320,"r":81.1},{"t":47.5,"w":1320,"r":81.6},{"t":50,"w":1320,"r":82.0},{"t":52.5,"w":1320,"r":82.6},{"t":55,"w":1320,"r":83.2},{"t":57.5,"w":1320,"r":83.9},{"t":60,"w":1320,"r":84.7},
{"t":10,"w":1400,"r":82.5},{"t":12.5,"w":1400,"r":82.6},{"t":15,"w":1400,"r":82.6},{"t":17.5,"w":1400,"r":82.7},{"t":20,"w":1400,"r":82.8},{"t":22.5,"w":1400,"r":82.9},{"t":25,"w":1400,"r":83.0},{"t":27.5,"w":1400,"r":83.1},{"t":30,"w":1400,"r":83.3},{"t":32.5,"w":1400,"r":83.4},{"t":35,"w":1400,"r":83.6},{"t":37.5,"w":1400,"r":83.8},{"t":40,"w":1400,"r":84.0},{"t":42.5,"w":1400,"r":84.3},{"t":45,"w":1400,"r":84.6},{"t":47.5,"w":1400,"r":84.9},{"t":50,"w":1400,"r":85.3},{"t":52.5,"w":1400,"r":85.7},{"t":55,"w":1400,"r":86.2},{"t":57.5,"w":1400,"r":86.8},{"t":60,"w":1400,"r":87.4},
{"t":10,"w":1500,"r":86.0},{"t":12.5,"w":1500,"r":86.0},{"t":15,"w":1500,"r":86.1},{"t":17.5,"w":1500,"r":86.1},{"t":20,"w":1500,"r":86.2},{"t":22.5,"w":1500,"r":86.3},{"t":25,"w":1500,"r":86.4},{"t":27.5,"w":1500,"r":86.5},{"t":30,"w":1500,"r":86.6},{"t":32.5,"w":1500,"r":86.7},{"t":35,"w":1500,"r":86.8},{"t":37.5,"w":1500,"r":87.0},{"t":40,"w":1500,"r":87.1},{"t":42.5,"w":1500,"r":87.3},{"t":45,"w":1500,"r":87.5},{"t":47.5,"w":1500,"r":87.8},{"t":50,"w":1500,"r":88.1},{"t":52.5,"w":1500,"r":88.4},{"t":55,"w":1500,"r":88.7},{"t":57.5,"w":1500,"r":89.1},{"t":60,"w":1500,"r":89.6},
{"t":10,"w":1600,"r":88.7},{"t":12.5,"w":1600,"r":88.7},{"t":15,"w":1600,"r":88.8},{"t":17.5,"w":1600,"r":88.8},{"t":20,"w":1600,"r":88.9},{"t":22.5,"w":1600,"r":88.9},{"t":25,"w":1600,"r":89.0},{"t":27.5,"w":1600,"r":89.0},{"t":30,"w":1600,"r":89.1},{"t":32.5,"w":1600,"r":89.2},{"t":35,"w":1600,"r":89.3},{"t":37.5,"w":1600,"r":89.4},{"t":40,"w":1600,"r":89.5},{"t":42.5,"w":1600,"r":89.7},{"t":45,"w":1600,"r":89.8},{"t":47.5,"w":1600,"r":90.0},{"t":50,"w":1600,"r":90.2},{"t":52.5,"w":1600,"r":90.4},{"t":55,"w":1600,"r":90.7},{"t":57.5,"w":1600,"r":91.0},{"t":60,"w":1600,"r":91.3},
{"t":10,"w":1700,"r":90.6},{"t":12.5,"w":1700,"r":90.6},{"t":15,"w":1700,"r":90.7},{"t":17.5,"w":1700,"r":90.7},{"t":20,"w":1700,"r":90.7},{"t":22.5,"w":1700,"r":90.8},{"t":25,"w":1700,"r":90.8},{"t":27.5,"w":1700,"r":90.9},{"t":30,"w":1700,"r":90.9},{"t":32.5,"w":1700,"r":91.0},{"t":35,"w":1700,"r":91.1},{"t":37.5,"w":1700,"r":91.1},{"t":40,"w":1700,"r":91.2},{"t":42.5,"w":1700,"r":91.3},{"t":45,"w":1700,"r":91.5},{"t":47.5,"w":1700,"r":91.6},{"t":50,"w":1700,"r":91.7},{"t":52.5,"w":1700,"r":91.9},{"t":55,"w":1700,"r":92.1},{"t":57.5,"w":1700,"r":92.3},{"t":60,"w":1700,"r":92.6},
{"t":10,"w":1800,"r":91.9},{"t":12.5,"w":1800,"r":91.9},{"t":15,"w":1800,"r":91.9},{"t":17.5,"w":1800,"r":92.0},{"t":20,"w":1800,"r":92.0},{"t":22.5,"w":1800,"r":92.0},{"t":25,"w":1800,"r":92.1},{"t":27.5,"w":1800,"r":92.1},{"t":30,"w":1800,"r":92.2},{"t":32.5,"w":1800,"r":92.2},{"t":35,"w":1800,"r":92.3},{"t":37.5,"w":1800,"r":92.3},{"t":40,"w":1800,"r":92.4},{"t":42.5,"w":1800,"r":92.5},{"t":45,"w":1800,"r":92.6},{"t":47.5,"w":1800,"r":92.7},{"t":50,"w":1800,"r":92.8},{"t":52.5,"w":1800,"r":93.0},{"t":55,"w":1800,"r":93.1},{"t":57.5,"w":1800,"r":93.3},{"t":60,"w":1800,"r":93.5},
{"t":10,"w":1900,"r":92.8},{"t":12.5,"w":1900,"r":92.8},{"t":15,"w":1900,"r":92.8},{"t":17.5,"w":1900,"r":92.9},{"t":20,"w":1900,"r":92.9},{"t":22.5,"w":1900,"r":92.9},{"t":25,"w":1900,"r":93.0},{"t":27.5,"w":1900,"r":93.0},{"t":30,"w":1900,"r":93.0},{"t":32.5,"w":1900,"r":93.1},{"t":35,"w":1900,"r":93.1},{"t":37.5,"w":1900,"r":93.2},{"t":40,"w":1900,"r":93.3},{"t":42.5,"w":1900,"r":93.4},{"t":45,"w":1900,"r":93.4},{"t":47.5,"w":1900,"r":93.5},{"t":50,"w":1900,"r":93.7},{"t":52.5,"w":1900,"r":93.8},{"t":55,"w":1900,"r":93.9},{"t":57.5,"w":1900,"r":94.1},{"t":60,"w":1900,"r":94.3},
{"t":10,"w":2000,"r":93.6},{"t":12.5,"w":2000,"r":93.6},{"t":15,"w":2000,"r":93.6},{"t":17.5,"w":2000,"r":93.7},{"t":20,"w":2000,"r":93.7},{"t":22.5,"w":2000,"r":93.7},{"t":25,"w":2000,"r":93.7},{"t":27.5,"w":2000,"r":93.8},{"t":30,"w":2000,"r":93.8},{"t":32.5,"w":2000,"r":93.9},{"t":35,"w":2000,"r":93.9},{"t":37.5,"w":2000,"r":94.0},{"t":40,"w":2000,"r":94.0},{"t":42.5,"w":2000,"r":94.1},{"t":45,"w":2000,"r":94.2},{"t":47.5,"w":2000,"r":94.3},{"t":50,"w":2000,"r":94.4},{"t":52.5,"w":2000,"r":94.5},{"t":55,"w":2000,"r":94.7},{"t":57.5,"w":2000,"r":94.8},{"t":60,"w":2000,"r":95.0}
]
},
"hconcat":[
{
"width":578,"height":466,
"resolve":{"axis":{"x":"independent","y":"independent"}},
"layer":[
{"data":{"name":"a"},
"mark":{"type":"line","strokeWidth":4.5,"strokeJoin":"round"},
"encoding":{
"x":{"field":"w","type":"quantitative","scale":{"domain":[400,2000],"nice":false,"zero":false},
"axis":{"orient":"bottom","title":"Wavelength (nm)","values":[400,500,600,700,800,900,1000,1100,1200,1300,1400,1500,1600,1700,1800,1900,2000],"labelExpr":"datum.value % 200 === 0 ? datum.label : ''","format":"d","tickSize":{"condition":{"test":"datum.value % 200 === 0","value":7},"value":4},"labelPadding":3,"titleY":68,"titleBaseline":"middle"}},
"y":{"field":"r","type":"quantitative","scale":{"domain":[0,100],"nice":false},
"axis":{"orient":"left","title":"Reflection","values":[0,10,20,30,40,50,60,70,80,90,100],"labelExpr":"datum.value % 20 === 0 ? datum.label : ''","tickSize":{"condition":{"test":"datum.value % 20 === 0","value":7},"value":4},"labelPadding":4,"titleX":-86,"titleY":228,"titleBaseline":"middle"}},
"color":{"field":"t","type":"quantitative","scale":{"scheme":"turbo","domain":[8.8,60.5]},
"legend":{"orient":"none","legendX":625,"legendY":14,"direction":"vertical","gradientLength":449,"gradientThickness":16,"title":null,"values":[10,20,30,40,50,60],"labelFont":"Liberation Serif","labelFontWeight":"bold","labelFontSize":24,"labelColor":"black","labelOffset":7,"gradientStrokeColor":"#222222","gradientStrokeWidth":1,"labelOverlap":false}},
"detail":{"field":"t","type":"quantitative"}}},
{"data":{"values":[{"label":"(a)"}]},
"mark":{"type":"text","font":"Liberation Serif","fontWeight":"bold","fontSize":44,"align":"center","baseline":"middle","color":"black"},
"encoding":{"text":{"field":"label"},
"x":{"datum":547,"type":"quantitative","axis":{"orient":"top","labels":false,"title":null,"values":[400,500,600,700,800,900,1000,1100,1200,1300,1400,1500,1600,1700,1800,1900,2000],"tickSize":{"condition":{"test":"datum.value % 200 === 0","value":7},"value":4}}},
"y":{"datum":94.2,"type":"quantitative","axis":{"orient":"right","labels":false,"title":null,"values":[0,10,20,30,40,50,60,70,80,90,100],"tickSize":{"condition":{"test":"datum.value % 20 === 0","value":7},"value":4}}}}},
{"data":{"values":[{"label":"TM polarization"}]},
"mark":{"type":"text","font":"Liberation Serif","fontWeight":"bold","fontSize":34,"align":"center","baseline":"middle","color":"black"},
"encoding":{"text":{"field":"label"},"x":{"datum":1549,"type":"quantitative","axis":null},"y":{"datum":14,"type":"quantitative","axis":null}}},
{"data":{"values":[{"label":"θ"}]},
"mark":{"type":"text","font":"Liberation Sans","fontSize":36,"align":"center","baseline":"middle","color":"black"},
"encoding":{"text":{"field":"label"},"x":{"datum":2249,"type":"quantitative","axis":null},"y":{"datum":103.4,"type":"quantitative","axis":null}}},
{"data":{"values":[{"label":"i"}]},
"mark":{"type":"text","font":"Liberation Serif","fontWeight":"bold","fontSize":36,"align":"center","baseline":"middle","color":"black"},
"encoding":{"text":{"field":"label"},"x":{"datum":2310,"type":"quantitative","axis":null},"y":{"datum":100.9,"type":"quantitative","axis":null}}},
{"data":{"values":[{"label":"°"}]},
"mark":{"type":"text","font":"Liberation Sans","fontSize":30,"align":"center","baseline":"middle","color":"black"},
"encoding":{"text":{"field":"label"},"x":{"datum":2315,"type":"quantitative","axis":null},"y":{"datum":108.4,"type":"quantitative","axis":null}}}
]},
{
"width":577,"height":466,
"resolve":{"axis":{"x":"independent","y":"independent"}},
"layer":[
{"data":{"name":"b"},
"mark":{"type":"line","strokeWidth":6,"strokeJoin":"round"},
"encoding":{
"x":{"field":"w","type":"quantitative","scale":{"domain":[400,2000],"nice":false,"zero":false},
"axis":{"orient":"bottom","title":"Wavelength (nm)","values":[400,500,600,700,800,900,1000,1100,1200,1300,1400,1500,1600,1700,1800,1900,2000],"labelExpr":"datum.value % 200 === 0 ? datum.label : ''","format":"d","tickSize":{"condition":{"test":"datum.value % 200 === 0","value":7},"value":4},"labelPadding":12,"titleY":74,"titleBaseline":"middle"}},
"y":{"field":"r","type":"quantitative","scale":{"domain":[0,100],"nice":false},
"axis":{"orient":"left","title":"Reflection","values":[0,10,20,30,40,50,60,70,80,90,100],"labelExpr":"datum.value % 20 === 0 ? datum.label : ''","tickSize":{"condition":{"test":"datum.value % 20 === 0","value":7},"value":4},"labelPadding":4,"titleX":-88,"titleY":239,"titleBaseline":"middle"}},
"color":{"field":"t","type":"quantitative","scale":{"scheme":"turbo","domain":[8.8,60.5]},
"legend":{"orient":"none","legendX":626,"legendY":14,"direction":"vertical","gradientLength":449,"gradientThickness":16,"title":null,"values":[10,20,30,40,50,60],"labelFont":"Liberation Serif","labelFontWeight":"bold","labelFontSize":24,"labelColor":"black","labelOffset":7,"gradientStrokeColor":"#222222","gradientStrokeWidth":1,"labelOverlap":false}},
"detail":{"field":"t","type":"quantitative"}}},
{"data":{"values":[{"label":"(b)"}]},
"mark":{"type":"text","font":"Liberation Serif","fontWeight":"bold","fontSize":44,"align":"center","baseline":"middle","color":"black"},
"encoding":{"text":{"field":"label"},
"x":{"datum":544,"type":"quantitative","axis":{"orient":"top","labels":false,"title":null,"values":[400,500,600,700,800,900,1000,1100,1200,1300,1400,1500,1600,1700,1800,1900,2000],"tickSize":{"condition":{"test":"datum.value % 200 === 0","value":7},"value":4}}},
"y":{"datum":93.5,"type":"quantitative","axis":{"orient":"right","labels":false,"title":null,"values":[0,10,20,30,40,50,60,70,80,90,100],"tickSize":{"condition":{"test":"datum.value % 20 === 0","value":7},"value":4}}}}},
{"data":{"values":[{"label":"TE polarization"}]},
"mark":{"type":"text","font":"Liberation Serif","fontWeight":"bold","fontSize":34,"align":"center","baseline":"middle","color":"black"},
"encoding":{"text":{"field":"label"},"x":{"datum":1548,"type":"quantitative","axis":null},"y":{"datum":14.5,"type":"quantitative","axis":null}}},
{"data":{"values":[{"label":"θ"}]},
"mark":{"type":"text","font":"Liberation Sans","fontSize":36,"align":"center","baseline":"middle","color":"black"},
"encoding":{"text":{"field":"label"},"x":{"datum":2258,"type":"quantitative","axis":null},"y":{"datum":105.8,"type":"quantitative","axis":null}}},
{"data":{"values":[{"label":"i"}]},
"mark":{"type":"text","font":"Liberation Serif","fontWeight":"bold","fontSize":36,"align":"center","baseline":"middle","color":"black"},
"encoding":{"text":{"field":"label"},"x":{"datum":2313,"type":"quantitative","axis":null},"y":{"datum":103.6,"type":"quantitative","axis":null}}},
{"data":{"values":[{"label":"°"}]},
"mark":{"type":"text","font":"Liberation Sans","fontSize":30,"align":"center","baseline":"middle","color":"black"},
"encoding":{"text":{"field":"label"},"x":{"datum":2316,"type":"quantitative","axis":null},"y":{"datum":111.6,"type":"quantitative","axis":null}}}
]}
]
}
